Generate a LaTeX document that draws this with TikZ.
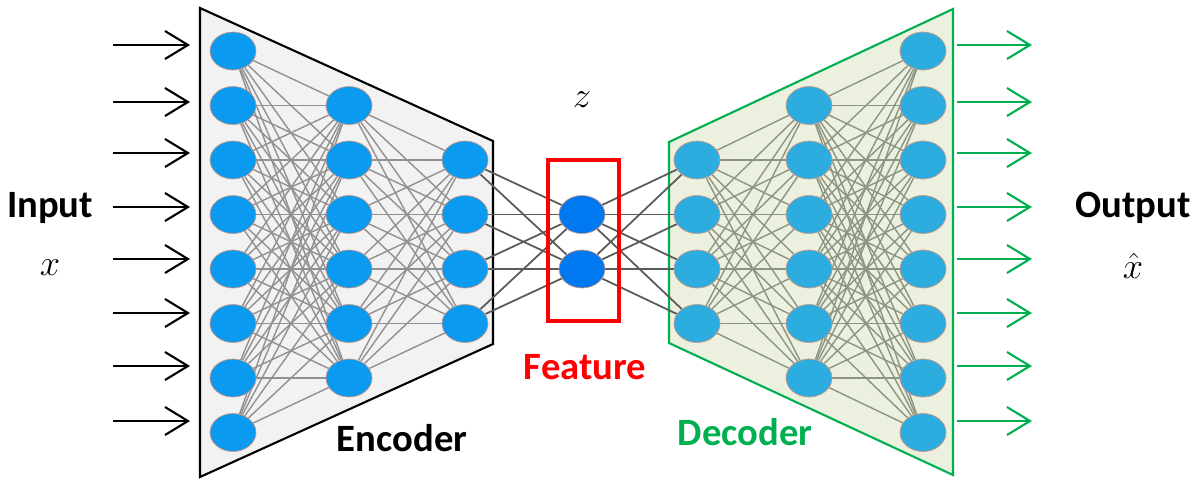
\documentclass[tikz,border=0pt]{standalone}
\usepackage[RGB]{xcolor}
\usepackage{fontspec}
\setsansfont{Carlito}
\usetikzlibrary{shapes.geometric,arrows.meta,backgrounds}
\definecolor{encnode}{RGB}{10,154,239}
\definecolor{decnode}{RGB}{45,172,224}
\definecolor{featnode}{RGB}{0,120,240}
\definecolor{encfill}{RGB}{242,242,242}
\definecolor{decfill}{RGB}{235,241,222}
\definecolor{decgreen}{RGB}{0,176,80}
\definecolor{encedge}{RGB}{145,145,145}
\definecolor{decedge}{RGB}{140,148,130}
\definecolor{midedge}{RGB}{90,90,90}
\definecolor{rim}{RGB}{205,150,130}
\tikzset{
  neuron/.style={ellipse,minimum width=0.92cm,minimum height=0.76cm,inner sep=0pt,draw=rim,line width=0.4pt},
  link/.style={line width=0.8pt},
  inarrow/.style={line width=1.2pt,-{Straight Barb[length=0.46cm,width=0.56cm,line width=1.2pt]}},
  bigtext/.style={inner sep=1pt,font=\sffamily\bfseries\fontsize{22}{26}\selectfont},
  mathtext/.style={inner sep=1pt,font=\fontsize{22}{26}\selectfont}
}
\newcommand{\layer}[5]{
  \foreach \i in {1,...,#4}{
    \node[neuron,fill=#5] (#1\i) at (#2,{#3+54.5*(\i-1)}) {};
  }
}
\newcommand{\connect}[4]{
  \foreach \i in {1,...,#2}{
    \foreach \j in {1,...,#4}{
      \draw[link] (#1\i) -- (#3\j);
    }
  }
}

\begin{document}
\begin{tikzpicture}[x=0.02cm,y=-0.02cm]
\useasboundingbox (0,0) rectangle (1200,485);
% layers
\layer{ea}{233}{51}{8}{encnode}
\layer{eb}{349}{105.5}{6}{encnode}
\layer{ec}{465}{160}{4}{encnode}
\layer{fz}{582}{214.5}{2}{featnode}
\layer{da}{697}{160}{4}{decnode}
\layer{db}{809}{105.5}{6}{decnode}
\layer{dc}{923}{51}{8}{decnode}
\begin{scope}[on background layer]
  \draw[line width=1.2pt,fill=encfill] (200,8)--(493,141)--(493,344)--(200,477)--cycle;
  \draw[line width=1.2pt,draw=decgreen,fill=decfill] (953,9)--(669,142)--(669,343)--(953,475)--cycle;
  \begin{scope}[encedge]
    \connect{ea}{8}{eb}{6}
    \connect{eb}{6}{ec}{4}
  \end{scope}
  \begin{scope}[midedge,link/.append style={line width=1pt}]
    \connect{ec}{4}{fz}{2}
    \connect{fz}{2}{da}{4}
  \end{scope}
  \begin{scope}[decedge]
    \connect{da}{4}{db}{6}
    \connect{db}{6}{dc}{8}
  \end{scope}
\end{scope}
% feature box
\node[draw=red,line width=1.8pt,minimum width=1.42cm,minimum height=3.22cm] (box) at (583.5,240.5) {};
% in and out arrows
\foreach \y [count=\k] in {45,102,153,207,259,313,366,421}{
  \coordinate (in\k) at (113,\y);
  \coordinate (inend\k) at (190,\y);
  \coordinate (out\k) at (957,\y);
  \coordinate (outend\k) at (1032,\y);
  \draw[inarrow] (in\k) -- (inend\k);
  \draw[inarrow,decgreen] (out\k) -- (outend\k);
}
% labels
\node[bigtext] (input) at (50,208) {Input};
\node[mathtext] (xin) at (50,268) {$x$};
\node[bigtext] (output) at (1133,208) {Output};
\node[mathtext] (xout) at (1133,266) {$\hat{x}$};
\node[mathtext] (zlab) at (582,100) {$z$};
\node[bigtext,red] (feature) at (585,367) {Feature};
\node[bigtext] (encoder) at (402,438) {Encoder};
\node[bigtext,decgreen] (decoder) at (745,432) {Decoder};
\end{tikzpicture}
\end{document}
